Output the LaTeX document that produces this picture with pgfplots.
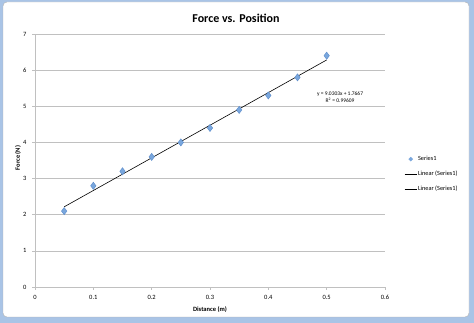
\documentclass[border=0pt]{standalone}
\usepackage{pgfplots}
\pgfplotsset{compat=1.18}
\usepackage{fontspec}
\setmainfont{Carlito}
\definecolor{frameblue}{HTML}{A9C4E6}
\definecolor{gridgray}{HTML}{C0C0C0}
\definecolor{ptfill}{HTML}{7AA7DD}
\definecolor{ptdraw}{HTML}{5A8BCB}
\pgfplotsset{
  shortline/.style={legend image code/.code={\draw[black, line width=0.6pt] (0pt,0pt) -- (12pt,0pt);}},
  smallmark/.style={legend image code/.code={\fill[ptfill] (6pt,0pt) ++(-2pt,0pt) -- ++(2pt,2pt) -- ++(2pt,-2pt) -- ++(-2pt,-2pt) -- cycle;}},
}
\begin{document}
\begin{tikzpicture}
\fill[frameblue] (0pt,0pt) rectangle (474pt,323pt);
\fill[white, draw=gray!60, line width=0.4pt, rounded corners=4pt] (3pt,6pt) rectangle (469pt,321pt);
\node[font=\bfseries\fontsize{12}{14}\selectfont] at (236pt,305pt) {Force vs. Position};
\node[font=\bfseries\fontsize{6.5}{7}\selectfont] at (210pt,13pt) {Distance (m)};
\node[font=\bfseries\fontsize{6.5}{7}\selectfont, rotate=90] at (18pt,165pt) {Force (N)};
\begin{axis}[
  at={(35pt,36pt)}, anchor=south west,
  scale only axis, width=350pt, height=253pt,
  xmin=0, xmax=0.6, ymin=0, ymax=7,
  xtick={0,0.1,...,0.6}, ytick={0,1,...,7},
  axis x line*=bottom, axis y line*=left,
  axis line style={gridgray, line width=0.6pt},
  ymajorgrids, grid style={gridgray, line width=0.6pt},
  tick style={gridgray, line width=0.6pt},
  tick align=outside, major tick length=3pt,
  xticklabel style={font=\fontsize{6.5}{7}\selectfont, yshift=-2pt},
  yticklabel style={font=\fontsize{6.5}{7}\selectfont, xshift=-2pt},
  /pgf/number format/assume math mode=true,
  xticklabel={\pgfmathprintnumber[fixed,precision=1]{\tick}},
  legend style={at={(1.055,0.522)}, anchor=north west, draw=none, fill=none,
    font=\fontsize{6.3}{7}\selectfont, row sep=7pt, inner sep=0pt,
    nodes={inner sep=1pt}},
  legend cell align=left,
  clip=false,
]
\addplot[only marks, mark=diamond*, mark size=3.6pt,
  mark options={fill=ptfill, draw=ptdraw, line width=0.4pt}, smallmark]
  coordinates {(0.05,2.1) (0.1,2.8) (0.15,3.2) (0.2,3.6) (0.25,4.0)
               (0.3,4.4) (0.35,4.9) (0.4,5.3) (0.45,5.8) (0.5,6.4)};
\addlegendentry{Series1}
\addplot[black, line width=0.6pt, shortline]
  coordinates {(0.05,2.218) (0.5,6.282)};
\addlegendentry{Linear (Series1)}
\addlegendimage{shortline}
\addlegendentry{Linear (Series1)}
\node[font=\fontsize{5.5}{7}\selectfont, align=center] at (axis cs:0.523,5.25)
  {y = 9.0303x + 1.7667\\R\textsuperscript{2} = 0.99609};
\end{axis}
\end{tikzpicture}
\end{document}
